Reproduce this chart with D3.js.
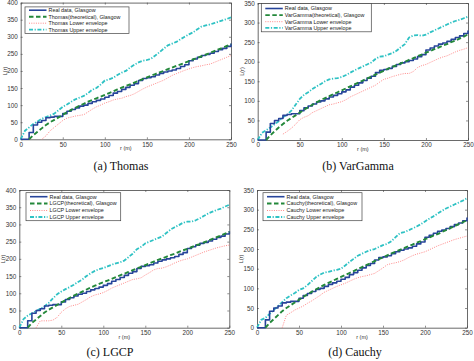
<!DOCTYPE html>
<html><head><meta charset="utf-8">
<script src="https://cdn.jsdelivr.net/npm/d3@7"></script>
<style>body{margin:0;background:#fff}svg{display:block}</style>
</head><body>
<svg id="c" width="474" height="361"></svg>
<script>
// r values (m)
const rValues = [0,5,10,15,20,25,30,35,40,45,50,55,60,65,70,75,80,85,90,95,100,105,110,115,120,125,130,135,140,145,150,155,160,165,170,175,180,185,190,195,200,205,210,215,220,225,230,235,240,245,250];
const xTicks = [0,50,100,150,200,250];
// Real data, Glasgow (same in every panel)
const realData = [0,0,20,42,50,55,63,65,67,67,75,82,87,92,97,100,105,110,114,118,123,128,135,140,146,152,158,163,172,178,180,183,188,193,197,200,203,207,213,218,230,235,240,245,248,252,257,262,266,272,280];

// (a) Thomas
const thomasTheo = [null,null,0,12,22,32,42,50,57,64,72,79,86,92,98,104,110,115,120,125,130,135,140,146,151,156,161,166,171,176,181,186,191,196,200,205,210,215,219,224,229,234,238,243,248,253,258,263,268,273,278];
const thomasLower = [null,null,null,null,null,0,10,25,35,45,55,62,65,68,70,72,80,88,95,100,106,110,115,118,120,125,128,133,140,147,153,158,163,168,173,180,187,192,197,202,206,210,213,215,218,220,225,230,235,240,245];
const thomasUpper = [0,25,35,45,52,60,65,70,75,85,95,102,110,117,122,127,135,145,150,160,172,175,180,188,195,200,210,218,225,230,232,236,245,255,265,275,280,285,293,300,307,313,322,330,333,336,340,344,348,352,357];

// (b) VarGamma
const vargTheo = [null,null,0,12,22,32,41,49,56,63,70,77,84,90,96,102,107,112,117,122,127,132,137,142,147,152,157,162,167,172,177,182,187,191,196,200,205,209,214,218,223,227,232,236,241,245,250,254,259,264,270];
const vargLower = [null,null,null,null,null,null,15,22,30,40,52,58,62,70,75,80,85,90,92,95,98,103,110,115,120,125,130,135,140,148,155,158,162,165,168,170,170,175,185,190,193,198,203,208,212,215,220,225,229,232,236];
const vargUpper = [0,18,25,32,40,48,58,65,75,90,105,115,122,130,137,143,150,155,157,158,161,166,172,178,183,188,193,198,207,213,214,218,222,228,237,245,262,267,268,266,269,275,280,285,290,295,300,304,307,311,315];

// (c) LGCP
const lgcpTheo = [null,null,0,14,24,34,44,52,59,66,73,80,87,93,99,105,111,117,122,127,132,137,142,147,152,157,162,167,172,177,182,187,192,197,201,206,211,215,220,225,229,234,239,243,248,253,258,263,268,273,278];
const lgcpLower = [null,null,null,null,0,20,20,20,22,30,45,55,62,65,68,75,82,90,95,98,102,108,115,120,125,130,135,140,142,145,153,160,168,172,173,177,182,188,193,197,200,205,210,215,220,224,228,232,235,238,240];
const lgcpUpper = [0,25,35,42,48,55,62,72,85,97,105,112,118,125,133,140,150,158,165,170,173,178,183,187,190,195,205,215,228,235,245,250,255,260,265,275,285,292,298,305,308,308,312,318,325,332,337,342,346,352,357];

// (d) Cauchy
const cauchyTheo = [null,null,0,12,22,32,42,50,57,64,71,78,85,91,97,103,109,114,119,124,129,134,139,144,149,154,159,164,169,174,179,184,189,193,198,202,207,211,216,220,225,229,234,238,243,248,253,258,263,268,273];
const cauchyLower = [null,null,null,null,null,null,0,32,38,45,50,55,62,68,75,82,90,95,100,105,109,113,118,123,127,130,132,135,138,145,152,160,163,165,168,172,178,183,187,190,193,198,203,208,212,216,220,224,227,230,233];
const cauchyUpper = [0,20,25,35,45,55,65,75,82,88,96,100,108,118,128,135,140,142,145,147,150,158,167,175,183,188,193,197,200,205,210,213,220,230,240,243,247,252,257,263,270,277,283,290,297,303,308,313,318,323,329];

const panels = [
  {name:"Thomas", caption:"(a) Thomas", yMax:400, theo:thomasTheo, lower:thomasLower, upper:thomasUpper,
   box:[20.7,231,2.6,139.3], legend:[25,6.9,104,26.6], legRows:[10.2,16.7,23.2,29.6], capPos:[121,170]},
  {name:"VarGamma", caption:"(b) VarGamma", yMax:350, theo:vargTheo, lower:vargLower, upper:vargUpper,
   box:[257.7,468,3,140], legend:[261.3,3.6,110,28.2], legRows:[8.5,15.1,21.7,27.9], capPos:[358,170]},
  {name:"LGCP", caption:"(c) LGCP", yMax:400, theo:lgcpTheo, lower:lgcpLower, upper:lgcpUpper,
   box:[19.3,229.3,190,327.7], legend:[26,192.7,94.7,28], legRows:[196.7,203.5,210.5,217], capPos:[110,356]},
  {name:"Cauchy", caption:"(d) Cauchy", yMax:350, theo:cauchyTheo, lower:cauchyLower, upper:cauchyUpper,
   box:[257,467,190,327.7], legend:[263,192.7,99,28], legRows:[196.7,203.5,210.5,217], capPos:[355,356]}
];

const styles = {
  real:{color:"#27449a", width:1.6, dash:null},
  theo:{color:"#23883a", width:1.9, dash:"4.5,2.5"},
  lower:{color:"#ff7b7b", width:0.9, dash:"1,1.3"},
  upper:{color:"#2fc2c4", width:1.8, dash:"4,1.6,1.2,1.6"}
};

const svg = d3.select("#c");
const tickFont = "Liberation Sans, Arial, sans-serif";

panels.forEach(p => {
  const [x0,x1,yTop,yBot] = p.box;
  const x = d3.scaleLinear().domain([0,250]).range([x0,x1]);
  const y = d3.scaleLinear().domain([0,p.yMax]).range([yBot,yTop]);
  const g = svg.append("g");
  const yTicks = d3.range(0,p.yMax+1,50);

  // axes (MATLAB box style, ticks inward)
  const axB = g.append("g").attr("transform",`translate(0,${yBot})`).call(d3.axisBottom(x).tickValues(xTicks).tickSizeInner(-2).tickSizeOuter(0).tickPadding(3));
  const axT = g.append("g").attr("transform",`translate(0,${yTop})`).call(d3.axisTop(x).tickValues(xTicks).tickSizeInner(-2).tickSizeOuter(0).tickFormat(""));
  const axL = g.append("g").attr("transform",`translate(${x0},0)`).call(d3.axisLeft(y).tickValues(yTicks).tickSizeInner(-2).tickSizeOuter(0).tickPadding(3));
  const axR = g.append("g").attr("transform",`translate(${x1},0)`).call(d3.axisRight(y).tickValues(yTicks).tickSizeInner(-2).tickSizeOuter(0).tickFormat(""));
  [axB,axT,axL,axR].forEach(a => {
    a.select(".domain").attr("stroke","#444").attr("stroke-width",0.8);
    a.selectAll(".tick line").attr("stroke","#444").attr("stroke-width",0.6);
    a.selectAll("text").attr("font-family",tickFont).attr("font-size",6.3).attr("fill","#333");
  });

  const line = (vals, curve) => d3.line()
    .defined(d => d.v !== null)
    .x(d => x(d.r)).y(d => y(d.v)).curve(curve || d3.curveLinear)(rValues.map((r,i)=>({r, v: vals[i]})));

  const series = [
    {vals:p.lower, st:styles.lower},
    {vals:p.upper, st:styles.upper},
    {vals:realData, st:styles.real, curve:d3.curveStepAfter},
    {vals:p.theo, st:styles.theo}
  ];
  series.forEach(s => {
    g.append("path").attr("d", line(s.vals, s.curve)).attr("fill","none")
      .attr("stroke", s.st.color).attr("stroke-width", s.st.width)
      .attr("stroke-dasharray", s.st.dash).attr("stroke-linejoin","round");
  });

  // axis labels
  g.append("text").attr("x",(x0+x1)/2).attr("y",yBot+11).attr("text-anchor","middle")
    .attr("font-family",tickFont).attr("font-size",5.5).attr("fill","#333").text("r (m)");
  g.append("text").attr("transform",`translate(${x0-14},${(yTop+yBot)/2}) rotate(-90)`).attr("text-anchor","middle")
    .attr("font-family",tickFont).attr("font-size",5.5).attr("fill","#333").text("L(r)");

  // legend
  const [lx,ly,lw,lh] = p.legend;
  g.append("rect").attr("x",lx).attr("y",ly).attr("width",lw).attr("height",lh)
    .attr("fill","#fff").attr("stroke","#444").attr("stroke-width",0.7);
  const labels = ["Real data, Glasgow", `${p.name}(theoretical), Glasgow`, `${p.name} Lower envelope`, `${p.name} Upper envelope`];
  const sts = [styles.real, styles.theo, styles.lower, styles.upper];
  labels.forEach((t,i) => {
    const yy = p.legRows[i];
    g.append("line").attr("x1",lx+4).attr("x2",lx+21.5).attr("y1",yy).attr("y2",yy)
      .attr("stroke",sts[i].color).attr("stroke-width",sts[i].width).attr("stroke-dasharray",sts[i].dash);
    g.append("text").attr("x",lx+23.5).attr("y",yy+1.9).attr("font-family",tickFont)
      .attr("font-size",5.4).attr("fill","#222").text(t);
  });

  // caption
  g.append("text").attr("x",p.capPos[0]).attr("y",p.capPos[1]).attr("text-anchor","middle")
    .attr("font-family","Liberation Serif, Times New Roman, serif").attr("font-size",12).attr("fill","#111").text(p.caption);
});
</script>
</body></html>
